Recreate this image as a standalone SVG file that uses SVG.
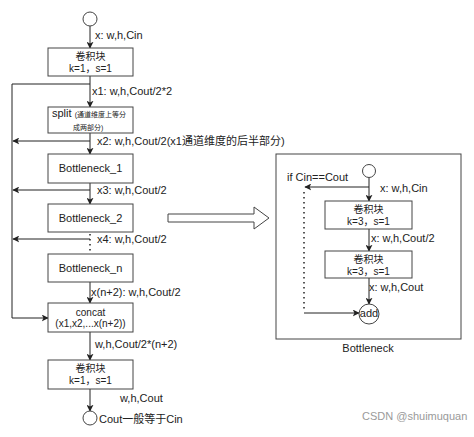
<svg xmlns="http://www.w3.org/2000/svg" width="474" height="437" viewBox="0 0 474 437">
<style>
text{font-family:"Liberation Sans","Noto Sans CJK SC",sans-serif;fill:#222;font-size:11px}
.c{text-anchor:middle}
.box{fill:#fff;stroke:#444;stroke-width:1}
.ln{fill:none;stroke:#222;stroke-width:1}
.dot{fill:none;stroke:#222;stroke-width:1.5;stroke-dasharray:1.5 3.5}
.cjk{font-size:10px}
.sm{font-size:7px}
</style>
<defs>
<marker id="ar" viewBox="0 0 10 10" refX="9" refY="5" markerWidth="7" markerHeight="7" orient="auto" markerUnits="userSpaceOnUse">
<path d="M0,0 L10,5 L0,10 L2.5,5 Z" fill="#222"/>
</marker>
</defs>
<rect width="474" height="437" fill="#fff"/>
<g id="connectors">
<path class="ln" d="M90,26 V48" marker-end="url(#ar)"/>
<path class="ln" d="M90,76 V107" marker-end="url(#ar)"/>
<path class="ln" d="M90,84 H12 V318 H48" marker-end="url(#ar)"/>
<path class="ln" d="M90,133 V154" marker-end="url(#ar)"/>
<path class="ln" d="M90,141 H13" marker-end="url(#ar)"/>
<path class="ln" d="M90,183 V204" marker-end="url(#ar)"/>
<path class="ln" d="M90,190 H13" marker-end="url(#ar)"/>
<path class="dot" d="M90,234 V253"/>
<path class="ln" d="M90,239 H13" marker-end="url(#ar)"/>
<path class="ln" d="M90,282 V303" marker-end="url(#ar)"/>
<path class="ln" d="M90,332 V360" marker-end="url(#ar)"/>
<path class="ln" d="M90,389 V411" marker-end="url(#ar)"/>
<path class="ln" d="M369,177.5 V201" marker-end="url(#ar)"/>
<path class="ln" d="M369,187 H305" marker-end="url(#ar)"/>
<path class="ln" d="M369,229 V251" marker-end="url(#ar)"/>
<path class="ln" d="M369,278 V304" marker-end="url(#ar)"/>
<path class="dot" d="M304,192 V311"/>
<path class="ln" d="M304,313 H359" marker-end="url(#ar)"/>
<text x="95" y="39">x: w,h,Cin</text>
<text x="92" y="95">x1: w,h,Cout/2*2</text>
<text x="97" y="145">x2: w,h,Cout/2(x1通道维度的后半部分)</text>
<text x="97" y="194">x3: w,h,Cout/2</text>
<text x="97" y="243">x4: w,h,Cout/2</text>
<text x="91" y="296">x(n+2): w,h,Cout/2</text>
<text x="95" y="348">w,h,Cout/2*(n+2)</text>
<text x="120" y="402">w,h,Cout</text>
<text x="287" y="181">if Cin==Cout</text>
<text x="380" y="192">x: w,h,Cin</text>
<text x="371" y="242">x: w,h,Cout/2</text>
<text x="369" y="291">x: w,h,Cout</text>
</g>
<g id="start">
<circle cx="90" cy="19" r="7" class="box"/>
</g>
<g id="conv1">
<rect x="48" y="48" width="85" height="28" class="box"/>
<text x="90.5" y="60" class="c cjk">卷积块</text>
<text x="90.5" y="72" class="c cjk">k=1，s=1</text>
</g>
<g id="split">
<rect x="48" y="107" width="85" height="26" class="box"/>
<text x="52" y="117">split <tspan class="sm">(通道维度上等分</tspan></text>
<text x="73" y="130" class="sm">成两部分)</text>
</g>
<g id="bottleneck1">
<rect x="48" y="154" width="85" height="29" class="box"/>
<text x="90.5" y="172" class="c" font-size="11.5">Bottleneck_1</text>
</g>
<g id="bottleneck2">
<rect x="48" y="204" width="85" height="28" class="box"/>
<text x="90.5" y="222" class="c" font-size="11.5">Bottleneck_2</text>
</g>
<g id="bottleneckn">
<rect x="48" y="254" width="85" height="28" class="box"/>
<text x="90.5" y="272" class="c" font-size="11.5">Bottleneck_n</text>
</g>
<g id="concat">
<rect x="48" y="303" width="85" height="29" class="box"/>
<text x="90.5" y="316" class="c cjk">concat</text>
<text x="90.5" y="327" class="c cjk">(x1,x2,...x(n+2))</text>
</g>
<g id="conv2">
<rect x="48" y="360" width="85" height="29" class="box"/>
<text x="90.5" y="372" class="c cjk">卷积块</text>
<text x="90.5" y="384" class="c cjk">k=1，s=1</text>
</g>
<g id="end">
<circle cx="90" cy="418" r="7" class="box"/>
<text x="99" y="423">Cout一般等于Cin</text>
</g>
<g id="bigarrow">
<path d="M168,214 H254 V207 L269,218 L254,229 V222 H168 Z" fill="#fff" stroke="#444" stroke-width="1"/>
</g>
<g id="bottleneck-panel">
<rect x="276" y="154" width="185" height="185" fill="none" stroke="#444" stroke-width="1"/>
<text x="368" y="352" class="c">Bottleneck</text>
</g>
<g id="bstart">
<circle cx="369" cy="171" r="6.5" class="box"/>
</g>
<g id="bconv1">
<rect x="325" y="201" width="87" height="28" class="box"/>
<text x="368.5" y="213" class="c cjk">卷积块</text>
<text x="368.5" y="225" class="c cjk">k=3，s=1</text>
</g>
<g id="bconv2">
<rect x="325" y="251" width="87" height="27" class="box"/>
<text x="368.5" y="263" class="c cjk">卷积块</text>
<text x="368.5" y="275" class="c cjk">k=3，s=1</text>
</g>
<g id="add">
<circle cx="369" cy="314" r="10" class="box"/>
<text x="369" y="317" class="c" font-size="8.5">add</text>
</g>
<g id="watermark">
<text x="362" y="420" fill="#999" style="fill:#9a9a9a" font-size="10.5">CSDN @shuimuquan</text>
</g>
</svg>
